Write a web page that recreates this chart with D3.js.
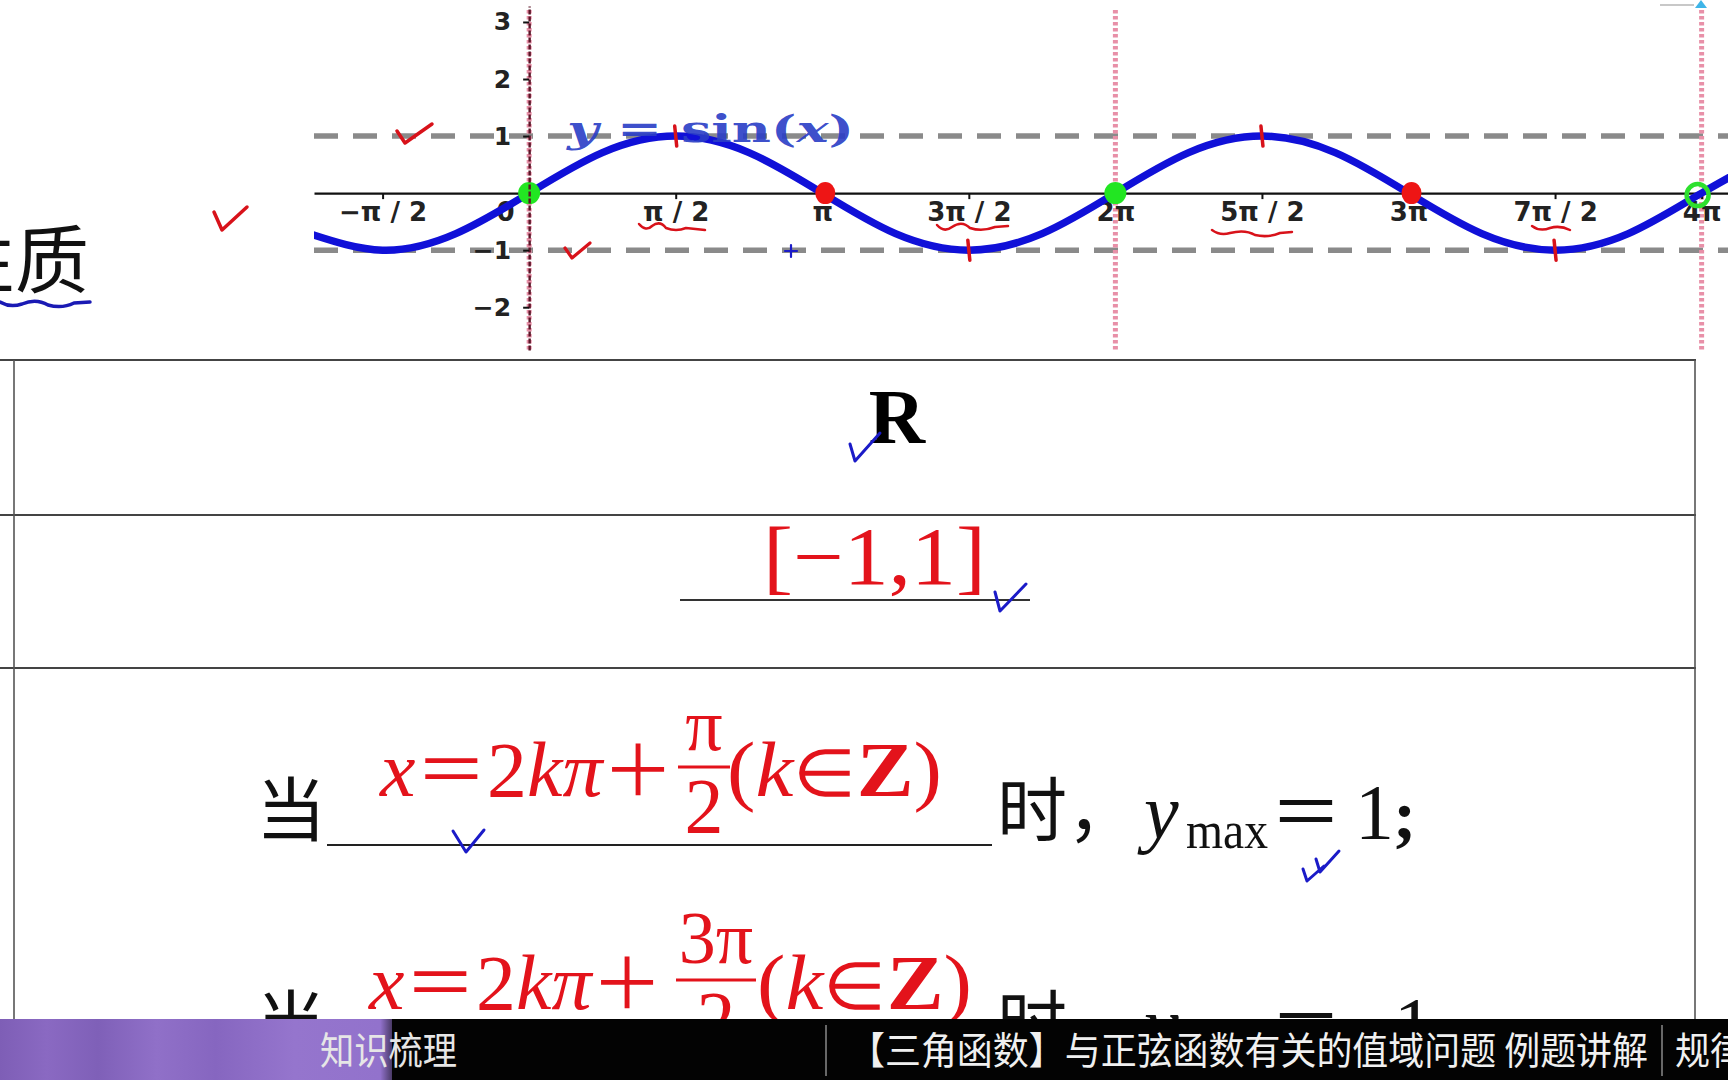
<!DOCTYPE html>
<html>
<head>
<meta charset="utf-8">
<script src="https://cdn.jsdelivr.net/npm/d3@7/dist/d3.min.js"></script>
<style>
  body { margin: 0; background: #fff; }
  svg { display: block; }
</style>
</head>
<body>
<svg id="chart"></svg>
<script>
// ---------- data (x values in units of pi) ----------
var xTickValues = [-0.5, 0, 0.5, 1, 1.5, 2, 2.5, 3, 3.5, 4];
var xTickLabels = ["−π / 2", "0", "π / 2", "π", "3π / 2", "2π", "5π / 2", "3π", "7π / 2", "4π"];
var yTickValues = [-2, -1, 1, 2, 3];
var curveX = [-0.75, -0.5, -0.25, 0, 0.25, 0.5, 0.75, 1, 1.25, 1.5, 1.75, 2, 2.25, 2.5, 2.75, 3, 3.25, 3.5, 3.75, 4, 4.25];
var curveY = [-0.71, -1, -0.71, 0, 0.71, 1, 0.71, 0, -0.71, -1, -0.71, 0, 0.71, 1, 0.71, 0, -0.71, -1, -0.71, 0, 0.71];
var boundLines = [1, -1];
var periodLines = [0, 2, 4];
var greenDots = [0, 2];
var redDots = [1, 3];
var hollowDots = [4];
var extremaX = [0.5, 1.5, 2.5, 3.5];
var extremaY = [1, -1, 1, -1];

var W = 1728, H = 1080;
var RED = "#e3131b", BLUE_PEN = "#1b1bc8", RED_PEN = "#d8121a";
var CJK = "'Noto Sans CJK SC', sans-serif";
var SERIF = "'Liberation Serif', 'Times New Roman', serif";

var svg = d3.select("#chart").attr("width", W).attr("height", H);
svg.append("rect").attr("width", W).attr("height", H).attr("fill", "#fff");

// ----------- scales ----------
var x = d3.scaleLinear().domain([-0.734, 4.09]).range([314, 1728]);
var y = d3.scaleLinear().domain([-2.75, 3.28]).range([350, 6]);

svg.append("clipPath").attr("id", "plotclip")
   .append("rect").attr("x", 314).attr("y", 0).attr("width", W - 314).attr("height", 360);

var plot = svg.append("g").attr("clip-path", "url(#plotclip)");

// dashed y = ±1 lines
plot.selectAll(".bound").data(boundLines).enter().append("line")
    .attr("x1", x.range()[0]).attr("x2", x.range()[1])
    .attr("y1", function(d) { return y(d); }).attr("y2", function(d) { return y(d); })
    .attr("stroke", "#8a8a8a").attr("stroke-width", 5.5).attr("stroke-dasharray", "24,15");

// pink dotted period lines
plot.selectAll(".period").data(periodLines).enter().append("line")
    .attr("x1", function(d) { return x(d); }).attr("x2", function(d) { return x(d); })
    .attr("y1", y.range()[1] + 4).attr("y2", y.range()[0] + 2)
    .attr("stroke", "#e890a8").attr("stroke-width", 5).attr("stroke-dasharray", "3.5,2.5");

// ----------- X AXIS ----------
var xAxis = plot.append("g")
    .attr("transform", "translate(0," + y(0) + ")")
    .call(d3.axisBottom(x).tickValues(xTickValues).tickSize(6).tickPadding(3).tickSizeOuter(0)
          .tickFormat(function(d, i) { return xTickLabels[i]; }));
xAxis.select(".domain").attr("stroke", "#111").attr("stroke-width", 2.2);
xAxis.selectAll(".tick line").attr("stroke", "#111").attr("stroke-width", 2);
xAxis.selectAll("text").attr("font-family", "'DejaVu Sans', sans-serif").attr("font-weight", "bold")
     .attr("font-size", 26).attr("fill", "#222")
     .attr("dx", function(d) { return d === 0 ? -24 : 0; });

// ----------- Y AXIS ----------
var yAxis = svg.append("g")
    .attr("transform", "translate(" + x(0) + ",0)")
    .call(d3.axisLeft(y).tickValues(yTickValues).tickSize(6).tickPadding(12).tickSizeOuter(0)
          .tickFormat(function(d) { return d < 0 ? "−" + Math.abs(d) : d; }));
yAxis.select(".domain").attr("stroke", "#5a1426").attr("stroke-width", 2.4).attr("stroke-dasharray", "5,2");
yAxis.selectAll(".tick line").attr("stroke", "#111").attr("stroke-width", 2);
yAxis.selectAll("text").attr("font-family", "'DejaVu Sans', sans-serif").attr("font-weight", "bold")
     .attr("font-size", 25).attr("fill", "#222");

// ----------- sine curve ----------
var line = d3.line()
    .x(function(d, i) { return x(curveX[i]); })
    .y(function(d) { return y(d); })
    .curve(d3.curveNatural);
plot.append("path").datum(curveY)
    .attr("d", line).attr("fill", "none")
    .attr("stroke", "#1010d8").attr("stroke-width", 7.5);

// label
var lbl = svg.append("text").attr("x", 567).attr("y", 142)
    .attr("font-family", "'DejaVu Serif', serif").attr("font-weight", "bold").attr("font-size", 38)
    .attr("fill", "#2b3ec6").attr("fill-opacity", 0.92)
    .attr("textLength", 287).attr("lengthAdjust", "spacingAndGlyphs");
lbl.append("tspan").attr("font-style", "italic").text("y");
lbl.append("tspan").text(" = sin(");
lbl.append("tspan").attr("font-style", "italic").text("x");
lbl.append("tspan").text(")");

// zero markers
plot.selectAll(".gdot").data(greenDots).enter().append("circle")
    .attr("cx", function(d) { return x(d); }).attr("cy", y(0)).attr("r", 11).attr("fill", "#22e622");
plot.selectAll(".rdot").data(redDots).enter().append("ellipse")
    .attr("cx", function(d) { return x(d) + 3; }).attr("cy", y(0)).attr("rx", 10).attr("ry", 11)
    .attr("fill", "#ee1515");
plot.selectAll(".hdot").data(hollowDots).enter().append("circle")
    .attr("cx", function(d) { return x(d) - 4; }).attr("cy", y(0) + 2).attr("r", 11)
    .attr("fill", "none").attr("stroke", "#2ee02e").attr("stroke-width", 4.5);

// red pen marks on extrema
plot.selectAll(".ext").data(extremaX).enter().append("line")
    .attr("x1", function(d) { return x(d) - 1; }).attr("x2", function(d) { return x(d) + 1; })
    .attr("y1", function(d, i) { return y(extremaY[i]) - 10; })
    .attr("y2", function(d, i) { return y(extremaY[i]) + 10; })
    .attr("stroke", RED_PEN).attr("stroke-width", 3.5).attr("stroke-linecap", "round");

// small arrow at the top right
svg.append("path").attr("d", "M1695,8 L1701,0 L1707,8 Z").attr("fill", "#3fb5e8");
svg.append("line").attr("x1", 1660).attr("x2", 1694).attr("y1", 5).attr("y2", 5)
   .attr("stroke", "#c8c8c8").attr("stroke-width", 2);

// ----------- pen annotations ----------
function pen(d, color, w) {
  svg.append("path").attr("d", d).attr("fill", "none").attr("stroke", color)
     .attr("stroke-width", w || 3).attr("stroke-linecap", "round").attr("stroke-linejoin", "round");
}
pen("M397,131 L405,143 L432,124", RED_PEN, 3.5);
pen("M214,212 L222,230 L247,207", RED_PEN, 3.5);
pen("M565,248 L572,258 L590,243", RED_PEN, 3.2);
pen("M785,251 L797,251 M791,245 L791,257", BLUE_PEN, 2.2);
pen("M639,224 Q646,232 652,226 Q660,220 666,228 Q676,232 686,228 L705,230", RED_PEN, 2.5);
pen("M937,225 Q944,233 952,227 Q962,220 970,228 Q982,232 995,227 L1008,226", RED_PEN, 2.5);
pen("M1212,230 Q1220,236 1230,233 Q1245,229 1255,235 Q1268,238 1280,233 L1292,232", RED_PEN, 2.5);
pen("M1532,226 Q1540,232 1550,228 Q1560,225 1570,230", RED_PEN, 2.5);
pen("M0,302 Q10,308 22,304 Q36,298 48,305 Q62,309 74,303 L90,302", "#1a1ab4", 3.5);

// partial heading "性质"
svg.append("text").attr("x", 89).attr("y", 287).attr("text-anchor", "end")
   .attr("font-family", CJK).attr("font-size", 74).attr("fill", "#111").text("性质");

// ----------- table ----------
var rowLines = [360, 515, 668];
svg.selectAll(".hrow").data(rowLines).enter().append("line")
   .attr("x1", 0).attr("x2", 1696).attr("y1", function(d) { return d; }).attr("y2", function(d) { return d; })
   .attr("stroke", "#444").attr("stroke-width", 2);
[14, 1695].forEach(function(cx) {
  svg.append("line").attr("x1", cx).attr("x2", cx).attr("y1", 360).attr("y2", 1020)
     .attr("stroke", "#555").attr("stroke-width", 1.6);
});

// row 1 : R
svg.append("text").attr("x", 897).attr("y", 443).attr("text-anchor", "middle")
   .attr("font-family", SERIF).attr("font-weight", "bold").attr("font-size", 78).attr("fill", "#000").text("R");
pen("M850,444 L855,461 L880,433", BLUE_PEN, 3);

// row 2 : [-1,1]
svg.append("line").attr("x1", 680).attr("x2", 1030).attr("y1", 600).attr("y2", 600)
   .attr("stroke", "#333").attr("stroke-width", 2.2);
svg.append("text").attr("x", 763).attr("y", 584)
   .attr("font-family", SERIF).attr("font-size", 82).attr("fill", RED)
   .attr("textLength", 223).attr("lengthAdjust", "spacingAndGlyphs").text("[−1,1]");
pen("M995,592 L1000,611 L1026,584", BLUE_PEN, 3);

// formula rows
function formulaRow(dy, numer, sub, rhs, rhsX, tail) {
  // black text
  svg.append("text").attr("x", 256).attr("y", 836 + dy)
     .attr("font-family", CJK).attr("font-size", 70).attr("fill", "#111").text("当");
  svg.append("text").attr("x", 997).attr("y", 836 + dy)
     .attr("font-family", CJK).attr("font-size", 70).attr("fill", "#111").text("时，");
  svg.append("text").attr("x", 1144).attr("y", 838 + dy)
     .attr("font-family", SERIF).attr("font-style", "italic").attr("font-size", 78).attr("fill", "#111").text("y");
  svg.append("text").attr("x", 1186).attr("y", 848 + dy)
     .attr("font-family", SERIF).attr("font-size", 52).attr("fill", "#111")
     .attr("textLength", sub === "max" ? 82 : 70).attr("lengthAdjust", "spacingAndGlyphs").text(sub);
  svg.append("text").attr("x", 1270).attr("y", 838 + dy)
     .attr("font-family", CJK).attr("font-size", 72).attr("fill", "#111").text("＝");
  svg.append("text").attr("x", rhsX).attr("y", 838 + dy)
     .attr("font-family", SERIF).attr("font-size", 78).attr("fill", "#111").text(rhs);
  if (tail) {
    svg.append("text").attr("x", 1393).attr("y", 838 + dy)
       .attr("font-family", SERIF).attr("font-weight", "bold").attr("font-size", 70).attr("fill", "#111").text(tail);
  }

  // red answer
  var redBase = 796 + dy;
  var left = svg.append("text").attr("x", dy ? 369 : 380).attr("y", redBase)
     .attr("font-family", SERIF).attr("font-size", 78).attr("fill", RED)
     .attr("textLength", 294).attr("lengthAdjust", "spacingAndGlyphs");
  left.append("tspan").attr("font-style", "italic").text("x");
  left.append("tspan").attr("font-family", CJK).attr("font-size", 70).text("＝");
  left.append("tspan").text("2");
  left.append("tspan").attr("font-style", "italic").text("kπ");
  left.append("tspan").attr("font-family", CJK).attr("font-size", 70).text("＋");

  var fx = dy ? 716 : 704;
  svg.append("text").attr("x", fx).attr("y", redBase - 46).attr("text-anchor", "middle")
     .attr("font-family", SERIF).attr("font-size", 74).attr("fill", RED).text(numer);
  svg.append("line").attr("x1", fx - (dy ? 40 : 26)).attr("x2", fx + (dy ? 40 : 26))
     .attr("y1", redBase - 29).attr("y2", redBase - 29).attr("stroke", RED).attr("stroke-width", 3);
  svg.append("text").attr("x", fx).attr("y", redBase + 36).attr("text-anchor", "middle")
     .attr("font-family", SERIF).attr("font-size", 78).attr("fill", RED).text("2");

  var right = svg.append("text").attr("x", dy ? 757 : 727).attr("y", redBase)
     .attr("font-family", SERIF).attr("font-size", 78).attr("fill", RED)
     .attr("textLength", 215).attr("lengthAdjust", "spacingAndGlyphs");
  right.append("tspan").text("(");
  right.append("tspan").attr("font-style", "italic").text("k");
  right.append("tspan").attr("font-size", 66).text("∈");
  right.append("tspan").attr("font-weight", "bold").text("Z");
  right.append("tspan").text(")");
}

svg.append("line").attr("x1", 327).attr("x2", 992).attr("y1", 845).attr("y2", 845)
   .attr("stroke", "#222").attr("stroke-width", 2.2);
formulaRow(0, "π", "max", "1", 1355, ";");
pen("M453,831 L466,852 L484,830", BLUE_PEN, 3);
pen("M1303,869 L1307,881 L1324,866 M1316,859 L1320,872 L1339,851", BLUE_PEN, 3);
formulaRow(213, "3π", "min", "−1", 1350, null);

// ----------- bottom bar ----------
var grad = svg.append("defs").append("linearGradient").attr("id", "purple")
    .attr("x1", "0").attr("x2", "1").attr("y1", "0").attr("y2", "0");
[[0, "#7e5eb6"], [0.12, "#8a69c2"], [0.25, "#7f60b8"], [0.4, "#9070c8"], [0.55, "#8666c0"],
 [0.75, "#9575cd"], [0.97, "#9272cc"], [1, "#4a3a66"]].forEach(function(s) {
  grad.append("stop").attr("offset", s[0]).attr("stop-color", s[1]);
});
svg.append("rect").attr("x", 0).attr("y", 1019).attr("width", W).attr("height", 61).attr("fill", "#030303");
svg.append("rect").attr("x", 0).attr("y", 1019).attr("width", 392).attr("height", 61).attr("fill", "url(#purple)");
[826, 1662].forEach(function(sx) {
  svg.append("line").attr("x1", sx).attr("x2", sx).attr("y1", 1025).attr("y2", 1076)
     .attr("stroke", "#8a8a8a").attr("stroke-width", 1.5);
});
svg.append("text").attr("x", 320).attr("y", 1064).attr("font-family", CJK).attr("font-size", 38)
   .attr("fill", "#e6e6e6").attr("textLength", 137).attr("lengthAdjust", "spacingAndGlyphs").text("知识梳理");
svg.append("text").attr("x", 849).attr("y", 1064).attr("font-family", CJK).attr("font-size", 38)
   .attr("fill", "#f0f0f0").attr("textLength", 799).attr("lengthAdjust", "spacingAndGlyphs")
   .text("【三角函数】与正弦函数有关的值域问题 例题讲解");
svg.append("text").attr("x", 1675).attr("y", 1064).attr("font-family", CJK).attr("font-size", 38)
   .attr("fill", "#f0f0f0").attr("textLength", 70).attr("lengthAdjust", "spacingAndGlyphs").text("规律");
</script>
</body>
</html>
